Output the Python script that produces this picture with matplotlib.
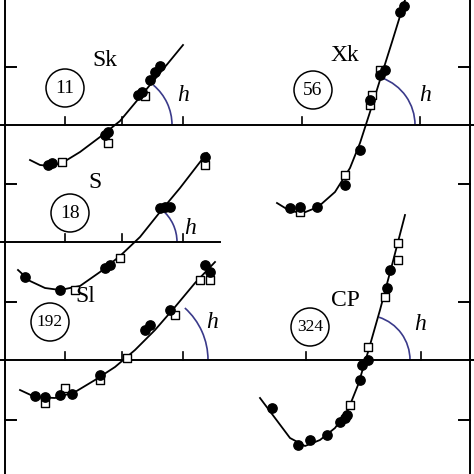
import matplotlib
matplotlib.use("Agg")
import matplotlib.pyplot as plt
from matplotlib.patches import Circle, Arc

# panel data in image-pixel coordinates (x right, y down)
panels = {
    "Sk": dict(curve_x=[30, 40, 50, 62, 80, 100, 120, 140, 160, 183],
               curve_y=[160, 165, 166, 163, 152, 137, 121, 97, 73, 45],
               fx=[48, 52, 105, 108, 138, 142, 150, 155, 160], fy=[165, 163, 135, 132, 95, 92, 80, 72, 66],
               ox=[62, 108, 145], oy=[162, 143, 96],
               num="11", cx=65, cy=88, name_xy=(105, 60), arc=(120, 125, 52, 50), h_xy=(183, 95)),
    "S": dict(curve_x=[18, 30, 45, 60, 80, 100, 120, 140, 160, 180, 207],
              curve_y=[270, 281, 288, 290, 286, 272, 256, 237, 212, 188, 153],
              fx=[25, 60, 105, 110, 160, 165, 170, 205], fy=[277, 290, 268, 265, 208, 207, 207, 157],
              ox=[75, 120, 205], oy=[290, 258, 165],
              num="18", cx=70, cy=213, name_xy=(95, 183), arc=(135, 242, 42, 50), h_xy=(190, 228)),
    "Sl": dict(curve_x=[20, 35, 55, 75, 95, 115, 135, 155, 175, 195, 215],
               curve_y=[390, 397, 398, 392, 380, 367, 350, 330, 307, 283, 262],
               fx=[35, 45, 60, 72, 100, 145, 150, 170, 205, 210], fy=[396, 397, 395, 394, 375, 330, 325, 310, 265, 272],
               ox=[45, 65, 100, 127, 175, 200, 210], oy=[403, 388, 380, 358, 315, 280, 280],
               num="192", cx=50, cy=322, name_xy=(85, 297), arc=(138, 360, 70, 48), h_xy=(212, 322)),
    "Xk": dict(curve_x=[277, 290, 303, 318, 335, 350, 360, 370, 380, 392, 405],
               curve_y=[203, 211, 213, 207, 192, 168, 143, 112, 80, 42, 0],
               fx=[290, 300, 317, 345, 360, 370, 380, 385, 400, 404], fy=[208, 207, 207, 185, 150, 100, 75, 70, 12, 6],
               ox=[300, 345, 370, 372, 380], oy=[212, 175, 105, 95, 70],
               num="56", cx=313, cy=90, name_xy=(345, 55), arc=(365, 125, 50, 70), h_xy=(425, 95)),
    "CP": dict(curve_x=[260, 275, 290, 305, 320, 335, 348, 358, 368, 380, 392, 405],
               curve_y=[398, 418, 438, 446, 440, 428, 410, 385, 352, 310, 265, 215],
               fx=[272, 298, 310, 327, 340, 345, 347, 360, 362, 368, 387, 390],
               fy=[408, 445, 440, 435, 422, 418, 415, 380, 365, 360, 288, 270],
               ox=[350, 368, 385, 398, 398], oy=[405, 347, 297, 260, 243],
               num="324", cx=310, cy=327, name_xy=(345, 300), arc=(365, 360, 45, 72), h_xy=(420, 325)),
}
axis_ticks_y = [67, 184, 302, 420]
hline_ticks = {125: [65, 122, 183, 302, 420], 242: [65, 122, 183], 360: [65, 122, 183, 306, 421]}

fig = plt.figure(figsize=(4.74, 4.74), dpi=100)
ax = fig.add_axes([0, 0, 1, 1])
ax.set_xlim(0, 474)
ax.set_ylim(474, 0)
ax.set_aspect("equal")
ax.axis("off")
serif = "Liberation Serif"
lw = 1.4

# frame lines
ax.plot([5, 5], [0, 474], color="black", lw=lw)
ax.plot([470, 470], [0, 474], color="black", lw=lw)
for y in axis_ticks_y:
    ax.plot([5, 16], [y, y], color="black", lw=lw)
    ax.plot([459, 470], [y, y], color="black", lw=lw)
ax.plot([0, 474], [125, 125], color="black", lw=lw)
ax.plot([0, 220], [242, 242], color="black", lw=lw)
ax.plot([0, 474], [360, 360], color="black", lw=lw)
for y, xs in hline_ticks.items():
    for x in xs:
        ax.plot([x, x], [y, y - 8], color="black", lw=1.2)

for name, p in panels.items():
    ax.plot(p["curve_x"], p["curve_y"], color="black", lw=1.3, zorder=2)
    ax.scatter(p["ox"], p["oy"], s=30, facecolor="white", edgecolor="black", marker="s", lw=1.0, zorder=3)
    ax.scatter(p["fx"], p["fy"], s=45, color="black", marker="o", zorder=4)
    ax.add_patch(Circle((p["cx"], p["cy"]), 19, fill=False, color="black", lw=1.1))
    ax.text(p["cx"], p["cy"], p["num"], ha="center", va="center", fontsize=14 if len(p["num"]) < 3 else 12.5,
            family=serif)
    ax.text(*p["name_xy"], name, ha="center", va="center", fontsize=17, family=serif)
    acx, acy, r, ang = p["arc"]
    ax.add_patch(Arc((acx, acy), 2 * r, 2 * r, theta1=-ang, theta2=0, color="#3a3a8a", lw=1.2))
    ax.text(*p["h_xy"], "h", ha="center", va="center", fontsize=17, family=serif, style="italic")

fig.savefig("out.png", dpi=100)
